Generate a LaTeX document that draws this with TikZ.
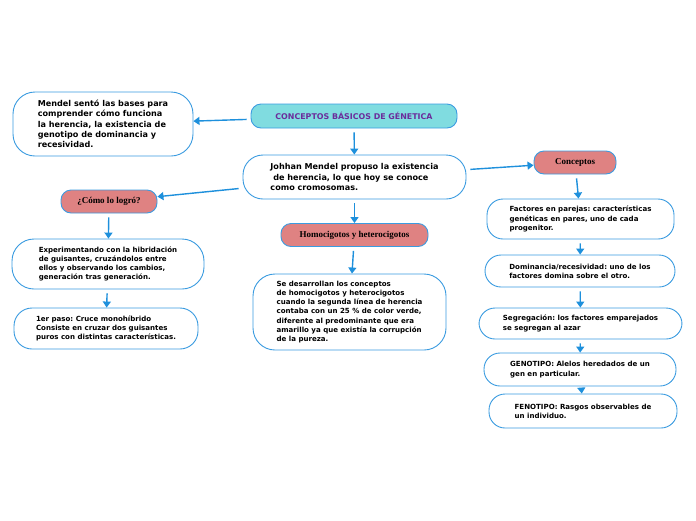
\documentclass[tikz,border=0pt]{standalone}
\usepackage{fontspec}
\setmainfont{DejaVu Sans}
\newfontfamily\serifbold{Liberation Serif}
\usepackage{tikz}
\usepackage{xcolor}
\usetikzlibrary{arrows.meta}
\frenchspacing
\definecolor{linkblue}{HTML}{1E90DC}
\definecolor{boxblue}{HTML}{3A9BE0}
\definecolor{titlecyan}{HTML}{80DCE0}
\definecolor{titlepurple}{HTML}{6B2C9B}
\definecolor{rosy}{HTML}{DF8282}
\tikzstyle{topic} = [rectangle, draw=boxblue, line width=0.9pt, fill=titlecyan, rounded corners=10pt, minimum width=206pt, minimum height=24pt, text=titlepurple, font=\bfseries\fontsize{7.9}{9}\selectfont]
\tikzstyle{idea} = [rectangle, draw=boxblue, line width=0.9pt, fill=white, rounded corners=20pt, align=left, inner sep=0pt, font=\bfseries\fontsize{8.1}{10.4}\selectfont]
\tikzstyle{fact} = [idea, rounded corners=16pt, font=\bfseries\fontsize{7.05}{9.2}\selectfont]
\tikzstyle{question} = [rectangle, draw=boxblue, line width=0.9pt, fill=rosy, rounded corners=10pt, minimum height=23pt, font=\serifbold\bfseries\fontsize{9}{10}\selectfont]
\tikzstyle{link} = [draw=linkblue, line width=1.4pt]

\begin{document}
\begin{tikzpicture}[->,>={Triangle[width=8pt,length=6pt]},shorten <=4pt,x=1pt,y=-1pt]
  \useasboundingbox (0,0) rectangle (696,520);

  % centre column
  \node[topic] (basicos) at (354,116) {CONCEPTOS BÁSICOS DE GÉNETICA};
  \node[idea, minimum width=223pt, minimum height=44pt] (johhan) at (354.5,177) {Johhan Mendel propuso la existencia\\\hspace*{0.35em}de herencia, lo que hoy se conoce\\como cromosomas.};
  \node[question, minimum width=147pt] (homocigotos) at (354.5,235) {Homocigotos y heterocigotos};
  \node[fact, rounded corners=22pt, minimum width=193pt, minimum height=76pt] (pureza) at (349.5,312) {Se desarrollan los conceptos\\de homocigotos y heterocigotos\\cuando la segunda línea de herencia\\contaba con un 25 \% de color verde,\\diferente al predominante que era\\amarillo ya que existía la corrupción\\de la pureza.};

  % left column
  \node[idea, rounded corners=22pt, minimum width=180pt, minimum height=64pt] (bases) at (103,124) {Mendel sentó las bases para\\comprender cómo funciona\\la herencia, la existencia de\\genotipo de dominancia y\\recesividad.};
  \node[question, minimum width=96pt] (logro) at (109,201.5) {¿Cómo lo logró?};
  \node[fact, rounded corners=22pt, minimum width=192pt, minimum height=50pt] (hibridacion) at (108,264) {Experimentando con la hibridación\\de guisantes, cruzándolos entre\\ellos y observando los cambios,\\generación tras generación.};
  \node[fact, rounded corners=18pt, minimum width=184pt, minimum height=41pt] (paso) at (106,328.5) {1er paso: Cruce monohíbrido\\Consiste en cruzar dos guisantes\\puros con distintas características.};

  % right column
  \node[question, minimum width=82pt] (conceptos) at (575,162.5) {Conceptos};
  \node[fact, minimum width=187pt, minimum height=40pt] (factores) at (580.5,219) {Factores en parejas: características\\genéticas en pares, uno de cada\\progenitor.};
  \node[fact, minimum width=190pt, minimum height=32pt] (dominancia) at (580,271) {Dominancia/recesividad: uno de los\\factores domina sobre el otro.};
  \node[fact, minimum width=203pt, minimum height=31pt] (segregacion) at (580.5,323.5) {Segregación: los factores emparejados\\se segregan al azar};
  \node[fact, minimum width=192pt, minimum height=33pt] (genotipo) at (580,369.5) {GENOTIPO: Alelos heredados de un\\gen en particular.};
  \node[fact, minimum width=188pt, minimum height=34pt] (fenotipo) at (583,411) {FENOTIPO: Rasgos observables de\\un individuo.};

  \path (basicos) edge[link] (bases);
  \path (basicos) edge[link] (johhan);
  \path (johhan) edge[link] (logro);
  \path (johhan) edge[link] (conceptos);
  \path (johhan) edge[link] (homocigotos);
  \path (homocigotos) edge[link] (pureza);
  \path (logro) edge[link] (hibridacion);
  \path (hibridacion) edge[link] (paso);
  \path (conceptos) edge[link] (factores);
  \path (factores) edge[link] (dominancia);
  \path (dominancia) edge[link] (segregacion);
  \path (segregacion) edge[link] (genotipo);
  \path (genotipo) edge[link] (fenotipo);
\end{tikzpicture}
\end{document}
